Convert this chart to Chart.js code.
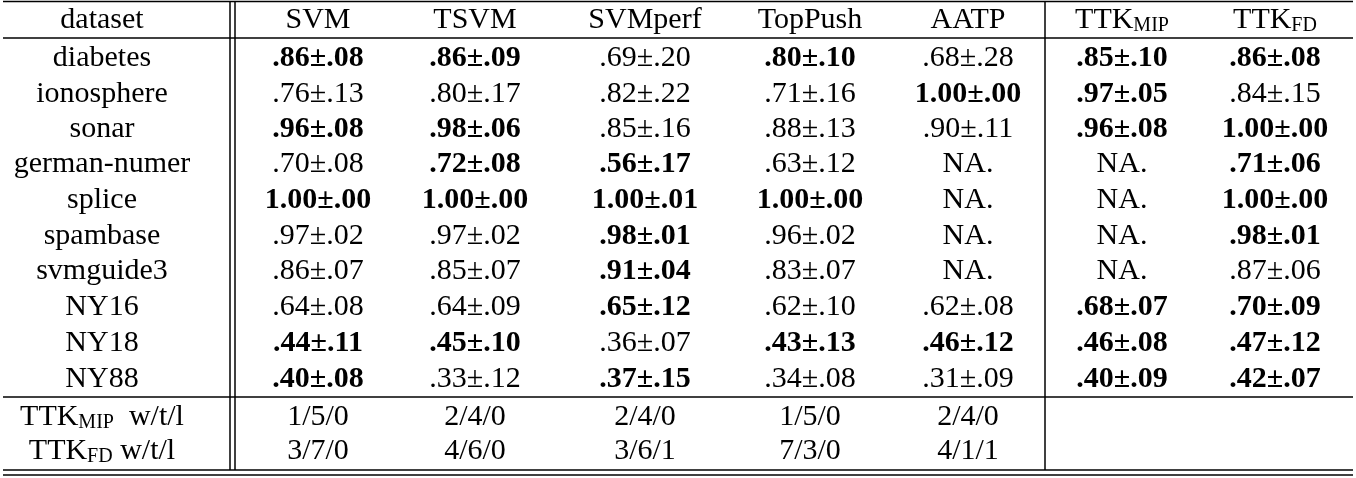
<!DOCTYPE html>
<html><head><meta charset="utf-8">
<script src="https://cdn.jsdelivr.net/npm/chart.js@4"></script>
<style>html,body{margin:0;padding:0;background:#fff}#w{width:1356px;height:478px}</style>
</head><body><div id="w"><canvas id="c"></canvas></div>
<script>
const datasets=["diabetes","ionosphere","sonar","german-numer","splice","spambase","svmguide3","NY16","NY18","NY88"];
const methods=["SVM","TSVM","SVMperf","TopPush","AATP","TTK_MIP","TTK_FD"];
const means={
SVM:[.86,.76,.96,.70,1.00,.97,.86,.64,.44,.40],
TSVM:[.86,.80,.98,.72,1.00,.97,.85,.64,.45,.33],
SVMperf:[.69,.82,.85,.56,1.00,.98,.91,.65,.36,.37],
TopPush:[.80,.71,.88,.63,1.00,.96,.83,.62,.43,.34],
AATP:[.68,1.00,.90,null,null,null,null,.62,.46,.31],
TTK_MIP:[.85,.97,.96,null,null,null,null,.68,.46,.40],
TTK_FD:[.86,.84,1.00,.71,1.00,.98,.87,.70,.47,.42]};
const stds={
SVM:[.08,.13,.08,.08,.00,.02,.07,.08,.11,.08],
TSVM:[.09,.17,.06,.08,.00,.02,.07,.09,.10,.12],
SVMperf:[.20,.22,.16,.17,.01,.01,.04,.12,.07,.15],
TopPush:[.10,.16,.13,.12,.00,.02,.07,.10,.13,.08],
AATP:[.28,.00,.11,null,null,null,null,.08,.12,.09],
TTK_MIP:[.10,.05,.08,null,null,null,null,.07,.08,.09],
TTK_FD:[.08,.15,.00,.06,.00,.01,.06,.09,.12,.07]};
const bold={
SVM:[1,0,1,0,1,0,0,0,1,1],TSVM:[1,0,1,1,1,0,0,0,1,0],SVMperf:[0,0,0,1,1,1,1,1,0,1],
TopPush:[1,0,0,0,1,0,0,0,1,0],AATP:[0,1,0,0,0,0,0,0,1,0],TTK_MIP:[1,1,1,0,0,0,0,1,1,1],TTK_FD:[1,0,1,1,1,1,0,1,1,1]};
const wtlMIP=["1/5/0","2/4/0","2/4/0","1/5/0","2/4/0"];
const wtlFD=["3/7/0","4/6/0","3/6/1","7/3/0","4/1/1"];

const colX=[102,318,475,645,810,968,1122,1275];
const rowY=[20,58,94,129,164,200,236,271,307,343,379,417,451];
const F='"Liberation Serif","DejaVu Serif",serif';
function fmt(v){let s=v.toFixed(2);return s.startsWith("0")?s.slice(1):s;}
function txt(ctx,s,x,y,b){ctx.font=(b?"bold ":"")+"30px "+F;ctx.fillText(s,x,y);}
function ttk(ctx,x,y,sub,rest){
  ctx.font="30px "+F;const a=ctx.measureText("TTK").width;
  ctx.font="20px "+F;const b=ctx.measureText(sub).width;
  ctx.font="30px "+F;const c=rest?ctx.measureText(rest).width:0;
  const tot=a+b+c;let x0=x-tot/2;
  ctx.textAlign="left";ctx.font="30px "+F;ctx.fillText("TTK",x0,y);
  ctx.font="20px "+F;ctx.fillText(sub,x0+a,y+6);
  if(rest){ctx.font="30px "+F;ctx.fillText(rest,x0+a+b,y);}
  ctx.textAlign="center";
}
const tablePlugin={id:"tbl",afterDraw(ch){
  const ctx=ch.ctx,xs=ch.scales.x,ys=ch.scales.y;
  const X=v=>xs.getPixelForValue(v),Y=v=>ys.getPixelForValue(v);
  ctx.save();ctx.fillStyle="#000";ctx.strokeStyle="#000";ctx.textAlign="center";ctx.textBaseline="middle";
  const hl=(y,x1,x2)=>{ctx.beginPath();ctx.moveTo(X(x1),Y(y));ctx.lineTo(X(x2),Y(y));ctx.stroke();};
  const vl=(x,y1,y2)=>{ctx.beginPath();ctx.moveTo(X(x),Y(y1));ctx.lineTo(X(x),Y(y2));ctx.stroke();};
  ctx.lineWidth=1.5;
  hl(1.5,3,1353);hl(38,3,1353);hl(397,3,1353);hl(470,3,1353);hl(475,3,1353);
  vl(230,1.5,470);vl(235,1.5,470);vl(1045,1.5,470);
  txt(ctx,"dataset",X(colX[0]),Y(rowY[0]));
  methods.forEach((m,j)=>{
    if(m.startsWith("TTK"))ttk(ctx,X(colX[j+1]),Y(rowY[0]),m.slice(4),"");
    else txt(ctx,m,X(colX[j+1]),Y(rowY[0]));
  });
  datasets.forEach((d,i)=>{
    txt(ctx,d,X(colX[0]),Y(rowY[i+1]));
    methods.forEach((m,j)=>{
      const v=means[m][i];
      const s=v==null?"NA.":fmt(v)+"±"+fmt(stds[m][i]);
      txt(ctx,s,X(colX[j+1]),Y(rowY[i+1]),v!=null&&bold[m][i]);
    });
  });
  ttk(ctx,X(colX[0]),Y(rowY[11]),"MIP","  w/t/l");
  ttk(ctx,X(colX[0]),Y(rowY[12]),"FD"," w/t/l");
  wtlMIP.forEach((s,j)=>txt(ctx,s,X(colX[j+1]),Y(rowY[11])));
  wtlFD.forEach((s,j)=>txt(ctx,s,X(colX[j+1]),Y(rowY[12])));
  ctx.restore();
}};
new Chart(document.getElementById("c"),{type:"scatter",data:{datasets:[{data:[]}]},
options:{responsive:true,maintainAspectRatio:false,animation:false,layout:{padding:0},
plugins:{legend:{display:false},tooltip:{enabled:false}},
scales:{x:{type:"linear",min:0,max:1356,display:false},y:{type:"linear",min:0,max:478,reverse:true,display:false}}},
plugins:[tablePlugin]});
</script></body></html>
